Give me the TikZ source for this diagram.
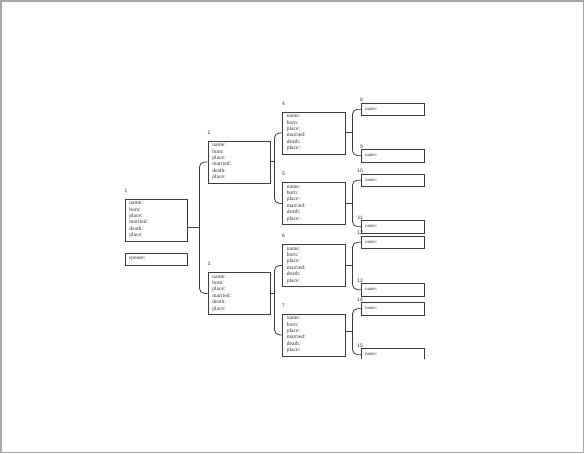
\documentclass[tikz,border=0pt]{standalone}
\usepackage{fontspec}
\setmainfont{Liberation Serif}
\newfontfamily\lblfont{Liberation Sans}
\definecolor{linec}{HTML}{3C3C3C}
\definecolor{framec}{HTML}{A8A8A8}
\definecolor{txtc}{HTML}{2E2E2E}
\tikzset{
  person/.style={draw=linec, line width=0.8pt, anchor=north west, minimum width=62.5pt,
    minimum height=42pt, text width=53.5pt, inner xsep=4.5pt, inner ysep=0pt, align=left,
    font=\fontsize{5.5}{6.4}\selectfont, text=txtc},
  anc/.style={draw=linec, line width=0.8pt, anchor=north west, minimum width=62.5pt,
    minimum height=12.5pt, text width=54.5pt, inner xsep=4pt, inner ysep=0pt, align=left,
    font=\fontsize{4.8}{5}\selectfont, text=txtc},
  conn/.style={draw=linec, line width=0.8pt, rounded corners=5pt},
  num/.style={font=\lblfont\fontsize{5}{6}\selectfont, inner sep=0pt, text=txtc},
}
\newcommand{\pinfo}{name:\\born:\\place:\\married:\\death:\\place:}
\begin{document}
\begin{tikzpicture}[x=1pt,y=-1pt]
\useasboundingbox (0,0) rectangle (585,453);
\draw[framec, line width=1.5pt] (0.75,0.75) rectangle (583.5,452.5);
\begin{scope}
\clip (0,0) rectangle (585,358);
% generation 1
\node[person] (b1) at (124.5,198.5) {\pinfo};
\node[anc, font=\fontsize{5.5}{6}\selectfont] (sp) at (124.5,252.5) {spouse:};
% generation 2
\node[person] (b2) at (207.5,140.5) {\pinfo};
\node[person] (b3) at (207.5,272) {\pinfo};
% generation 3
\node[person] (b4) at (282,111.5) {\pinfo};
\node[person] (b5) at (282,182) {\pinfo};
\node[person] (b6) at (282,244) {\pinfo};
\node[person] (b7) at (282,313.5) {\pinfo};
% generation 4
\node[anc] (b8)  at (361,102.5) {name:};
\node[anc] (b9)  at (361,149)   {name:};
\node[anc] (b10) at (361,173.5) {name:};
\node[anc] (b11) at (361,220)   {name:};
\node[anc] (b12) at (361,235.5) {name:};
\node[anc] (b13) at (361,283)   {name:};
\node[anc] (b14) at (361,302)   {name:};
\node[anc] (b15) at (361,348)   {name:};
% labels
\foreach \b/\t in {b1/1,b2/2,b3/3,b4/4,b5/5,b6/6,b7/7}
  \node[num, anchor=south west] (l\t) at ([yshift=6.2pt]\b.north west) {\t};
\foreach \b/\t in {b8/8,b9/9,b10/10,b11/11,b12/12,b13/13,b14/14,b15/15}
  \node[num, anchor=south east] (l\t) at ([xshift=2pt,yshift=0.4pt]\b.north west) {\t};
% junctions
\coordinate (j1) at (199.5,227);
\coordinate (j2) at (274.5,161);
\coordinate (j3) at (274.5,293);
\coordinate (j4) at (352.5,132.5);
\coordinate (j5) at (352.5,203);
\coordinate (j6) at (352.5,265);
\coordinate (j7) at (352.5,331);
% connectors
\draw[conn] (b1.east |- j1) -- (j1);
\draw[conn] (b2.west) -| (j1) |- (b3.west);
\draw[conn] (b2.east |- j2) -- (j2);
\draw[conn] (b4.west) -| (j2) |- (b5.west);
\draw[conn] (b3.east |- j3) -- (j3);
\draw[conn] (b6.west) -| (j3) |- (b7.west);
\draw[conn] (b4.east |- j4) -- (j4);
\draw[conn] (b8.west) -| (j4) |- (b9.west);
\draw[conn] (b5.east |- j5) -- (j5);
\draw[conn] (b10.west) -| (j5) |- (b11.west);
\draw[conn] (b6.east |- j6) -- (j6);
\draw[conn] (b12.west) -| (j6) |- (b13.west);
\draw[conn] (b7.east |- j7) -- (j7);
\draw[conn] (b14.west) -| (j7) |- (b15.west);
\end{scope}
\end{tikzpicture}
\end{document}
